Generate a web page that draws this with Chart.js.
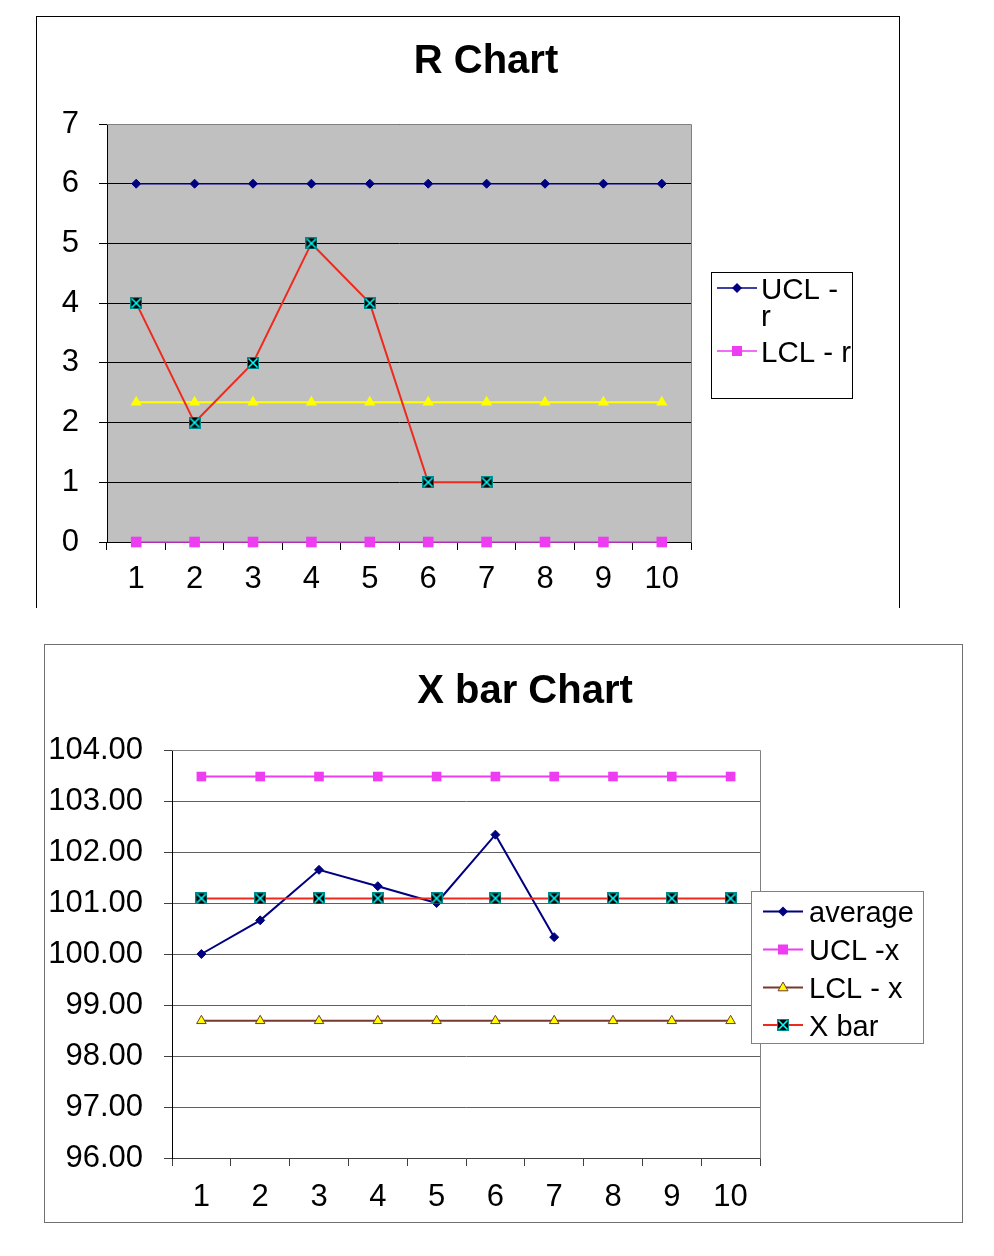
<!DOCTYPE html>
<html><head><meta charset="utf-8">
<script src="https://cdn.jsdelivr.net/npm/chart.js@4.4.1/dist/chart.umd.min.js"></script>
<style>
html,body{margin:0;padding:0;background:#fff;width:994px;height:1256px;overflow:hidden;position:relative;}
.frameA{position:absolute;left:36px;top:16px;width:862px;height:591px;border:1px solid #000;border-bottom:none;}
.frameB{position:absolute;left:44px;top:644px;width:917px;height:577px;border:1px solid #707070;}
#cA{position:absolute;left:0;top:0;}
#cB{position:absolute;left:0;top:620px;}
</style>
</head><body>
<div class="frameA"></div>
<div class="frameB"></div>
<canvas id="cA" width="994" height="620"></canvas>
<canvas id="cB" width="994" height="636"></canvas>
<script>
// ---------- DATA ----------
const categories = ['1','2','3','4','5','6','7','8','9','10'];

// R chart
const rUCL   = [6, 6, 6, 6, 6, 6, 6, 6, 6, 6];
const rLCL   = [0, 0, 0, 0, 0, 0, 0, 0, 0, 0];
const rBar   = [2.34, 2.34, 2.34, 2.34, 2.34, 2.34, 2.34, 2.34, 2.34, 2.34];
const rValues = [4, 2, 3, 5, 4, 1, 1, null, null, null];
const rYTicks = [0, 1, 2, 3, 4, 5, 6, 7];

// X bar chart
const xAverage = [100.00, 100.66, 101.65, 101.33, 101.00, 102.34, 100.33, null, null, null];
const xUCL = [103.48, 103.48, 103.48, 103.48, 103.48, 103.48, 103.48, 103.48, 103.48, 103.48];
const xLCL = [98.69, 98.69, 98.69, 98.69, 98.69, 98.69, 98.69, 98.69, 98.69, 98.69];
const xBar = [101.09, 101.09, 101.09, 101.09, 101.09, 101.09, 101.09, 101.09, 101.09, 101.09];
const xYTicks = [96, 97, 98, 99, 100, 101, 102, 103, 104];

// ---------- STYLE ----------
const FONT = "'Liberation Sans', Arial, Helvetica, sans-serif";
Chart.defaults.font.family = FONT;
Chart.defaults.color = '#000';

const NAVY = '#000080', MAGENTA = '#ee3cf2', YELLOW = '#ffff00', RED = '#ee2a1e', BROWN = '#76392f';
const TICK_SIZE = 31;

function makeXMarker(size) {
  const c = document.createElement('canvas');
  c.width = size; c.height = size;
  const g = c.getContext('2d');
  g.fillStyle = '#000';
  g.fillRect(0, 0, size, size);
  g.strokeStyle = 'rgba(0,255,255,0.55)';
  g.lineWidth = 1;
  g.strokeRect(0.5, 0.5, size - 1, size - 1);
  g.strokeStyle = '#00ffff';
  g.lineWidth = 1.6;
  g.beginPath();
  g.moveTo(1.5, 1.5); g.lineTo(size - 1.5, size - 1.5);
  g.moveTo(size - 1.5, 1.5); g.lineTo(1.5, size - 1.5);
  g.stroke();
  return c;
}
const xMarker = makeXMarker(12);

function drawMarker(ctx, m, x, y) {
  ctx.save();
  if (m.kind === 'diamond') {
    ctx.fillStyle = m.fill;
    ctx.beginPath();
    ctx.moveTo(x, y - m.r); ctx.lineTo(x + m.r, y); ctx.lineTo(x, y + m.r); ctx.lineTo(x - m.r, y);
    ctx.closePath(); ctx.fill();
  } else if (m.kind === 'square') {
    ctx.fillStyle = m.fill;
    ctx.fillRect(x - m.s / 2, y - m.s / 2, m.s, m.s);
  } else if (m.kind === 'triangle') {
    ctx.fillStyle = m.fill; ctx.strokeStyle = m.stroke; ctx.lineWidth = 1;
    ctx.beginPath();
    ctx.moveTo(x, y - m.r); ctx.lineTo(x + m.r * 0.9, y + m.r * 0.6); ctx.lineTo(x - m.r * 0.9, y + m.r * 0.6);
    ctx.closePath(); ctx.fill(); ctx.stroke();
  } else if (m.kind === 'image') {
    ctx.drawImage(m.img, x - m.img.width / 2, y - m.img.height / 2);
  }
  ctx.restore();
}

const decor = {
  id: 'decor',
  beforeDraw(chart, args, o) {
    const a = chart.chartArea, ctx = chart.ctx;
    if (o.plotFill) {
      ctx.save(); ctx.fillStyle = o.plotFill;
      ctx.fillRect(a.left, a.top, a.right - a.left, a.bottom - a.top);
      ctx.restore();
    }
  },
  beforeDatasetsDraw(chart, args, o) {
    const a = chart.chartArea, ctx = chart.ctx;
    const t = Math.round(a.top - 0.5) + 0.5, r = Math.round(a.right - 0.5) + 0.5, b = Math.round(a.bottom - 0.5) + 0.5;
    ctx.save(); ctx.strokeStyle = o.plotBorder; ctx.lineWidth = 1;
    ctx.beginPath(); ctx.moveTo(a.left, t); ctx.lineTo(r, t); ctx.lineTo(r, b); ctx.stroke();
    ctx.restore();
  },
  afterDraw(chart, args, o) {
    const ctx = chart.ctx;
    // title
    ctx.save();
    ctx.font = 'bold ' + o.title.size + 'px ' + FONT;
    ctx.fillStyle = '#000'; ctx.textAlign = 'center'; ctx.textBaseline = 'alphabetic';
    ctx.fillText(o.title.text, o.title.x, o.title.y);
    ctx.restore();
    // legend
    const L = o.legend;
    ctx.save();
    ctx.fillStyle = '#fff';
    ctx.fillRect(L.x, L.y, L.w, L.h);
    ctx.strokeStyle = L.border; ctx.lineWidth = 1;
    ctx.strokeRect(L.x + 0.5, L.y + 0.5, L.w, L.h);
    ctx.font = L.fontSize + 'px ' + FONT;
    ctx.textAlign = 'left'; ctx.textBaseline = 'alphabetic'; ctx.fillStyle = '#000';
    L.items.forEach(it => {
      ctx.strokeStyle = it.color; ctx.lineWidth = it.lineWidth;
      ctx.beginPath(); ctx.moveTo(L.lineX1, it.y); ctx.lineTo(L.lineX2, it.y); ctx.stroke();
      drawMarker(ctx, it.marker, (L.lineX1 + L.lineX2) / 2, it.y);
      it.lines.forEach((t, k) => ctx.fillText(t, L.textX, it.y + L.baseOff + k * L.lineGap));
    });
    ctx.restore();
  }
};

// ---------- R CHART ----------
new Chart(document.getElementById('cA'), {
  type: 'line',
  data: {
    labels: categories,
    datasets: [
      { label: 'UCL - r', data: rUCL, borderColor: NAVY, backgroundColor: NAVY, borderWidth: 1.5, clip: false,
        pointStyle: 'rectRot', pointRadius: 4.5, pointBorderWidth: 1, pointBackgroundColor: NAVY, pointBorderColor: NAVY, order: 3 },
      { label: 'LCL - r', data: rLCL, borderColor: MAGENTA, backgroundColor: MAGENTA, borderWidth: 1.5, clip: false,
        pointStyle: 'rect', pointRadius: 7.5, pointBorderWidth: 0, pointBackgroundColor: MAGENTA, order: 2 },
      { label: 'R bar', data: rBar, borderColor: YELLOW, backgroundColor: YELLOW, borderWidth: 2, clip: false,
        pointStyle: 'triangle', pointRadius: 6.5, pointBorderWidth: 0, pointBackgroundColor: YELLOW, order: 1 },
      { label: 'R', data: rValues, borderColor: RED, backgroundColor: RED, borderWidth: 2, clip: false,
        pointStyle: xMarker, pointRadius: 6, order: 0 }
    ]
  },
  options: {
    responsive: false, animation: false, devicePixelRatio: 1,
    layout: { padding: { left: 0, right: 303, top: 124, bottom: 28 } },
    elements: { line: { tension: 0 } },
    plugins: {
      legend: { display: false }, title: { display: false }, tooltip: { enabled: false },
      decor: {
        plotFill: '#c0c0c0', plotBorder: '#808080',
        title: { text: 'R Chart', x: 486, y: 73, size: 40 },
        legend: {
          x: 711, y: 272, w: 141, h: 126, border: '#000', fontSize: 29.5,
          lineX1: 717, lineX2: 757, textX: 761, baseOff: 10.5, lineGap: 27,
          items: [
            { lines: ['UCL -', 'r'], y: 288, color: NAVY, lineWidth: 1.5, marker: { kind: 'diamond', r: 5, fill: NAVY } },
            { lines: ['LCL - r'], y: 351, color: MAGENTA, lineWidth: 1.5, marker: { kind: 'square', s: 10, fill: MAGENTA } }
          ]
        }
      }
    },
    scales: {
      x: {
        offset: true,
        grid: { offset: true, drawOnChartArea: false, drawTicks: true, tickLength: 8, color: '#000' },
        border: { display: true, color: '#000', width: 1 },
        ticks: { padding: 11, font: { size: TICK_SIZE }, color: '#000', maxRotation: 0, autoSkip: false },
        afterFit: s => { s.height = 50; }
      },
      y: {
        min: 0, max: 7,
        afterBuildTicks: s => { s.ticks = rYTicks.map(v => ({ value: v })); },
        grid: { color: '#000', drawTicks: true, tickLength: 8 },
        border: { display: true, color: '#000', width: 1 },
        ticks: { padding: 20, font: { size: TICK_SIZE }, color: '#000' },
        afterFit: s => { s.width = 107; }
      }
    }
  },
  plugins: [decor]
});

// ---------- X BAR CHART ----------
const OFF = 620;
new Chart(document.getElementById('cB'), {
  type: 'line',
  data: {
    labels: categories,
    datasets: [
      { label: 'average', data: xAverage, borderColor: NAVY, backgroundColor: NAVY, borderWidth: 2, clip: false,
        pointStyle: 'rectRot', pointRadius: 4.5, pointBorderWidth: 1, pointBackgroundColor: NAVY, pointBorderColor: NAVY, order: 3 },
      { label: 'UCL -x', data: xUCL, borderColor: MAGENTA, backgroundColor: MAGENTA, borderWidth: 2, clip: false,
        pointStyle: 'rect', pointRadius: 6.8, pointBorderWidth: 0, pointBackgroundColor: MAGENTA, order: 2 },
      { label: 'LCL - x', data: xLCL, borderColor: BROWN, backgroundColor: YELLOW, borderWidth: 2, clip: false,
        pointStyle: 'triangle', pointRadius: 5.5, pointBorderWidth: 1, pointBackgroundColor: YELLOW, pointBorderColor: BROWN, order: 1 },
      { label: 'X bar', data: xBar, borderColor: RED, backgroundColor: RED, borderWidth: 2, clip: false,
        pointStyle: xMarker, pointRadius: 6, order: 0 }
    ]
  },
  options: {
    responsive: false, animation: false, devicePixelRatio: 1,
    layout: { padding: { left: 0, right: 234, top: 130, bottom: 38 } },
    elements: { line: { tension: 0 } },
    plugins: {
      legend: { display: false }, title: { display: false }, tooltip: { enabled: false },
      decor: {
        plotFill: null, plotBorder: '#808080',
        title: { text: 'X bar Chart', x: 525, y: 703 - OFF, size: 40 },
        legend: {
          x: 751, y: 891 - OFF, w: 172, h: 152, border: '#808080', fontSize: 29,
          lineX1: 763, lineX2: 803, textX: 809, baseOff: 10.5, lineGap: 0,
          items: [
            { lines: ['average'], y: 911.5 - OFF, color: NAVY, lineWidth: 2, marker: { kind: 'diamond', r: 5, fill: NAVY } },
            { lines: ['UCL -x'], y: 949.5 - OFF, color: MAGENTA, lineWidth: 2, marker: { kind: 'square', s: 10, fill: MAGENTA } },
            { lines: ['LCL - x'], y: 987.5 - OFF, color: BROWN, lineWidth: 2, marker: { kind: 'triangle', r: 5.5, fill: YELLOW, stroke: BROWN } },
            { lines: ['X bar'], y: 1025 - OFF, color: RED, lineWidth: 2, marker: { kind: 'image', img: xMarker } }
          ]
        }
      }
    },
    scales: {
      x: {
        offset: true,
        grid: { offset: true, drawOnChartArea: false, drawTicks: true, tickLength: 8, color: '#404040' },
        border: { display: true, color: '#404040', width: 1 },
        ticks: { padding: 13, font: { size: TICK_SIZE }, color: '#000', maxRotation: 0, autoSkip: false },
        afterFit: s => { s.height = 60; }
      },
      y: {
        min: 96, max: 104,
        afterBuildTicks: s => { s.ticks = xYTicks.map(v => ({ value: v })); },
        grid: { color: '#606060', drawTicks: true, tickLength: 8, tickColor: '#404040' },
        border: { display: true, color: '#000', width: 1 },
        ticks: { padding: 21, font: { size: TICK_SIZE }, color: '#000', callback: v => Number(v).toFixed(2) },
        afterFit: s => { s.width = 172; }
      }
    }
  },
  plugins: [decor]
});
</script>
</body></html>
